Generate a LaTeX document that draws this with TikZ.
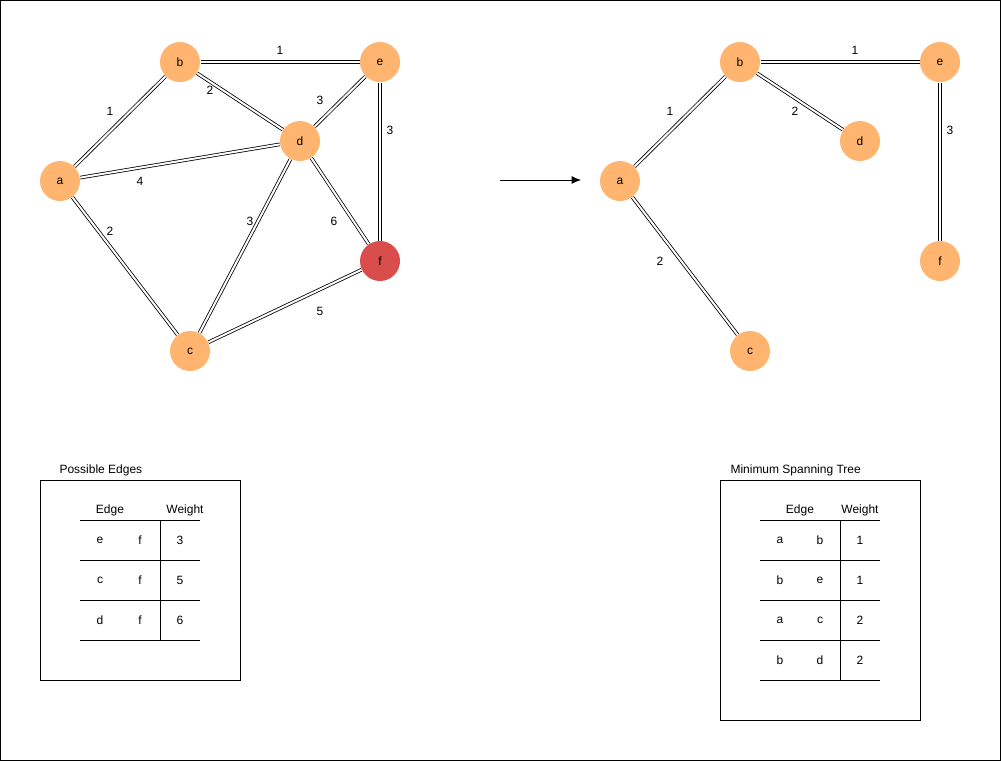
\documentclass[tikz,border=0pt]{standalone}
\usepackage{fontspec}
\setmainfont{Liberation Sans}
\usepackage{xcolor}
\usepackage{tikz}
\usetikzlibrary{positioning}
\usetikzlibrary{arrows.meta}
\definecolor{vorange}{HTML}{FFB570}
\definecolor{vred}{HTML}{DA4D4D}
\tikzset{
  vertex/.style={circle, fill=vorange, draw=none, minimum size=30pt, inner sep=0pt,
    font=\fontsize{9}{11}\selectfont},
  hot vertex/.style={vertex, fill=vred},
  link/.style={double, double distance=1.5pt, line width=0.6pt},
  elabel/.style={inner sep=1pt, font=\fontsize{9}{11}\selectfont},
  cell/.style={inner sep=0pt, font=\fontsize{9}{11}\selectfont},
  title/.style={inner sep=0pt, anchor=west, font=\fontsize{9}{11}\selectfont},
}
\begin{document}
\begin{tikzpicture}[x=0.75pt, y=-0.75pt, line width=0.75pt]

  \useasboundingbox (0,0) rectangle (1001,761);
  \draw (0.5,0.5) rectangle (1000.5,760.5);

  % Define nodes (full graph)
  \node[vertex] (b) at (180,62) {b};
  \node[vertex] (e) at (380,62) {e};
  \node[vertex] (d) at (300,141) {d};
  \node[vertex] (a) at (60,181) {a};
  \node[hot vertex] (f) at (380,261) {f};
  \node[vertex] (c) at (190,351) {c};

  % Define nodes (spanning tree)
  \node[vertex] (mst_b) at (740,62) {b};
  \node[vertex] (mst_e) at (940,62) {e};
  \node[vertex] (mst_d) at (860,141) {d};
  \node[vertex] (mst_a) at (620,181) {a};
  \node[vertex] (mst_f) at (940,261) {f};
  \node[vertex] (mst_c) at (750,351) {c};

  % Connect nodes
  \draw[link] (b) -- (e);
  \draw[link] (b) -- (d);
  \draw[link] (a) -- (b);
  \draw[link] (e) -- (d);
  \draw[link] (e) -- (f);
  \draw[link] (a) -- (d);
  \draw[link] (a) -- (c);
  \draw[link] (c) -- (d);
  \draw[link] (d) -- (f);
  \draw[link] (c) -- (f);

  \draw[link] (mst_b) -- (mst_e);
  \draw[link] (mst_b) -- (mst_d);
  \draw[link] (mst_a) -- (mst_b);
  \draw[link] (mst_e) -- (mst_f);
  \draw[link] (mst_a) -- (mst_c);

  % Weights
  \node[elabel] (w_be) at (280,50) {1};
  \node[elabel] (w_bd) at (210,90) {2};
  \node[elabel] (w_ab) at (110,111) {1};
  \node[elabel] (w_ed) at (320,100) {3};
  \node[elabel] (w_ef) at (390,130) {3};
  \node[elabel] (w_ad) at (140,181) {4};
  \node[elabel] (w_ac) at (110,231) {2};
  \node[elabel] (w_cd) at (250,221) {3};
  \node[elabel] (w_df) at (334,221) {6};
  \node[elabel] (w_cf) at (320,311) {5};

  \node[elabel] (mst_w_be) at (855,50) {1};
  \node[elabel] (mst_w_bd) at (795,111) {2};
  \node[elabel] (mst_w_ab) at (670,111) {1};
  \node[elabel] (mst_w_ef) at (950,130) {3};
  \node[elabel] (mst_w_ac) at (660,261) {2};

  % Arrow
  \coordinate (arrow_from) at (500,180);
  \coordinate (arrow_to) at (581,180);
  \draw[-{Latex[length=7pt, width=6pt]}] (arrow_from) -- (arrow_to);

  % Possible edges table
  \draw (40.5,480.5) rectangle (240.5,680.5);
  \node[title] (pe_title) at (59,470) {Possible Edges};
  \node[cell] (pe_edge) at (110,510) {Edge};
  \node[cell] (pe_weight) at (185,510) {Weight};
  \draw (80,520.5) -- (200,520.5);
  \draw (80,560.5) -- (200,560.5);
  \draw (80,600.5) -- (200,600.5);
  \draw (80,640.5) -- (200,640.5);
  \draw (160.5,520.5) -- (160.5,640.5);
  \node[cell] (pe_1u) at (100,540) {e};
  \node[cell] (pe_1v) at (140,540) {f};
  \node[cell] (pe_1w) at (180,540) {3};
  \node[cell] (pe_2u) at (100,580) {c};
  \node[cell] (pe_2v) at (140,580) {f};
  \node[cell] (pe_2w) at (180,580) {5};
  \node[cell] (pe_3u) at (100,620) {d};
  \node[cell] (pe_3v) at (140,620) {f};
  \node[cell] (pe_3w) at (180,620) {6};

  % Minimum spanning tree table
  \draw (720.5,480.5) rectangle (920.5,720.5);
  \node[title] (mt_title) at (730,470) {Minimum Spanning Tree};
  \node[cell] (mt_edge) at (800,510) {Edge};
  \node[cell] (mt_weight) at (860,510) {Weight};
  \draw (760,520.5) -- (880,520.5);
  \draw (760,560.5) -- (880,560.5);
  \draw (760,600.5) -- (880,600.5);
  \draw (760,640.5) -- (880,640.5);
  \draw (760,680.5) -- (880,680.5);
  \draw (840.5,520.5) -- (840.5,680.5);
  \node[cell] (mt_1u) at (780,540) {a};
  \node[cell] (mt_1v) at (820,540) {b};
  \node[cell] (mt_1w) at (860,540) {1};
  \node[cell] (mt_2u) at (780,580) {b};
  \node[cell] (mt_2v) at (820,580) {e};
  \node[cell] (mt_2w) at (860,580) {1};
  \node[cell] (mt_3u) at (780,620) {a};
  \node[cell] (mt_3v) at (820,620) {c};
  \node[cell] (mt_3w) at (860,620) {2};
  \node[cell] (mt_4u) at (780,660) {b};
  \node[cell] (mt_4v) at (820,660) {d};
  \node[cell] (mt_4w) at (860,660) {2};

\end{tikzpicture}
\end{document}
